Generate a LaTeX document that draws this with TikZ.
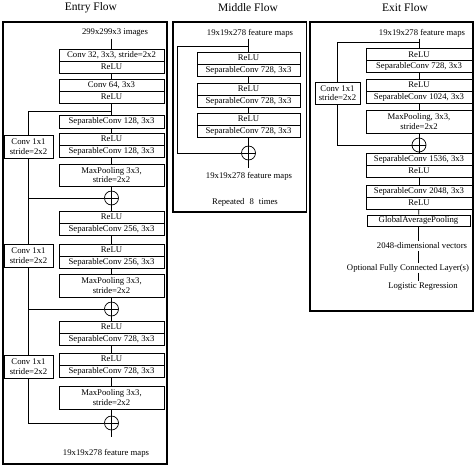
\documentclass[tikz,border=0pt]{standalone}
\usepackage{fontspec}
\setmainfont{Liberation Serif}
\begin{document}
\begin{tikzpicture}[x=1pt,y=-1pt,
  frame/.style={draw, line width=1.5pt},
  blk/.style={draw, line width=0.7pt, inner sep=0pt, align=center, font=\fontsize{8.7}{9.6}\selectfont},
  ew/.style={blk, minimum width=105pt},
  mw/.style={blk, minimum width=103pt},
  xw/.style={blk, minimum width=106pt},
  cw/.style={blk, minimum width=49pt, minimum height=23pt},
  half/.style={minimum height=12pt},
  ttl/.style={font=\fontsize{11.5}{13}\selectfont, inner sep=1pt},
  txt/.style={font=\fontsize{8.7}{9.6}\selectfont, inner sep=1.5pt},
  conn/.style={line width=0.7pt},
  sum/.style={circle, draw, line width=0.7pt, minimum size=14pt, inner sep=0pt,
    path picture={\draw[line width=0.7pt] (path picture bounding box.north) -- (path picture bounding box.south)
      (path picture bounding box.west) -- (path picture bounding box.east);}}
]
\useasboundingbox (0,0) rectangle (474,467);

% ---------- frames and titles ----------
\draw[frame] (3,22) rectangle (167,464);
\draw[frame] (173,22) rectangle (306.5,212);
\draw[frame] (310,22) rectangle (473,311);
\node[ttl] (T1) at (91,8) {Entry Flow};
\node[ttl] (T2) at (248,8) {Middle Flow};
\node[ttl] (T3) at (405,8) {Exit Flow};

% ---------- Entry flow ----------
\node[txt] (ein) at (115,33) {299x299x3 images};
\node[ew, half] (b1a) at (111.5,55) {Conv 32, 3x3, stride=2x2};
\node[ew, half] (b1b) at (111.5,67) {ReLU};
\node[ew, half] (b2a) at (111.5,85) {Conv 64, 3x3};
\node[ew, half] (b2b) at (111.5,97) {ReLU};
\node[ew, minimum height=13pt] (b3) at (111.5,121.5) {SeparableConv 128, 3x3};
\node[ew, half] (b4a) at (111.5,139) {ReLU};
\node[ew, half] (b4b) at (111.5,151) {SeparableConv 128, 3x3};
\node[ew, minimum height=22pt] (mp1) at (111.5,175) {MaxPooling 3x3,\\stride=2x2};
\node[sum] (p1) at (111.5,198) {};
\node[ew, half] (b5a) at (111.5,217) {ReLU};
\node[ew, half] (b5b) at (111.5,229) {SeparableConv 256, 3x3};
\node[ew, half] (b6a) at (111.5,250) {ReLU};
\node[ew, half] (b6b) at (111.5,262) {SeparableConv 256, 3x3};
\node[ew, minimum height=23pt] (mp2) at (111.5,285.5) {MaxPooling 3x3,\\stride=2x2};
\node[sum] (p2) at (111.5,309) {};
\node[ew, half] (b7a) at (111.5,327) {ReLU};
\node[ew, half] (b7b) at (111.5,339) {SeparableConv 728, 3x3};
\node[ew, half] (b8a) at (111.5,359) {ReLU};
\node[ew, half] (b8b) at (111.5,371) {SeparableConv 728, 3x3};
\node[ew, minimum height=23pt] (mp3) at (111.5,397.5) {MaxPooling 3x3,\\stride=2x2};
\node[sum] (p3) at (111.5,423) {};
\coordinate (eend) at (111.5,437);
\node[txt] (eout) at (106,453) {19x19x278 feature maps};

\node[cw] (c1) at (28.5,146.5) {Conv 1x1\\stride=2x2};
\node[cw] (c2) at (28.5,255.5) {Conv 1x1\\stride=2x2};
\node[cw] (c3) at (28.5,366.5) {Conv 1x1\\stride=2x2};
\coordinate (s1) at (111.5,111);

\draw[conn] (b1a.north |- ein.south) -- (b1a.north);
\draw[conn] (b1b) -- (b2a);
\draw[conn] (b2b) -- (b3);
\draw[conn] (b3) -- (b4a);
\draw[conn] (b4b) -- (mp1);
\draw[conn] (mp1) -- (p1);
\draw[conn] (p1) -- (b5a);
\draw[conn] (b5b) -- (b6a);
\draw[conn] (b6b) -- (mp2);
\draw[conn] (mp2) -- (p2);
\draw[conn] (p2) -- (b7a);
\draw[conn] (b7b) -- (b8a);
\draw[conn] (b8b) -- (mp3);
\draw[conn] (mp3) -- (p3);
\draw[conn] (p3) -- (eend);

\draw[conn] (s1) -| (c1.north);
\draw[conn] (c1.south) |- (p1.west);
\draw[conn] (c2.north) |- (p1.west);
\draw[conn] (c2.south) |- (p2.west);
\draw[conn] (c3.north) |- (p2.west);
\draw[conn] (c3.south) |- (p3.west);

% ---------- Middle flow ----------
\node[txt] (min) at (250,33) {19x19x278 feature maps};
\node[mw, half] (m1a) at (248.5,58) {ReLU};
\node[mw, half] (m1b) at (248.5,70) {SeparableConv 728, 3x3};
\node[mw, half] (m2a) at (248.5,89) {ReLU};
\node[mw, half] (m2b) at (248.5,101) {SeparableConv 728, 3x3};
\node[mw, half] (m3a) at (248.5,119) {ReLU};
\node[mw, half] (m3b) at (248.5,131) {SeparableConv 728, 3x3};
\node[sum] (mp) at (248.5,153) {};
\coordinate (mend) at (248.5,168);
\coordinate (ms) at (248.5,46);
\coordinate (mc) at (177,153);
\node[txt] (mout) at (249,176) {19x19x278 feature maps};
\node[txt] (mrep) at (245,202) {Repeated\hspace{5pt}8\hspace{5pt}times};

\draw[conn] (m1a.north |- min.south) -- (m1a.north);
\draw[conn] (m1b) -- (m2a);
\draw[conn] (m2b) -- (m3a);
\draw[conn] (m3b) -- (mp);
\draw[conn] (mp) -- (mend);
\draw[conn] (ms) -| (mc) -- (mp);

% ---------- Exit flow ----------
\node[txt] (xin) at (422,33) {19x19x278 feature maps};
\node[xw, half] (x1a) at (419,54.5) {ReLU};
\node[xw, half] (x1b) at (419,66.5) {SeparableConv 728, 3x3};
\node[xw, half] (x2a) at (419,85) {ReLU};
\node[xw, half] (x2b) at (419,97) {SeparableConv 1024, 3x3};
\node[xw, minimum height=23pt] (xmp) at (419,121.5) {MaxPooling, 3x3,\\stride=2x2};
\node[sum] (xp) at (419,145) {};
\node[xw, half] (x3a) at (419,159) {SeparableConv 1536, 3x3};
\node[xw, half] (x3b) at (419,171) {ReLU};
\node[xw, half] (x4a) at (419,191) {SeparableConv 2048, 3x3};
\node[xw, half] (x4b) at (419,203) {ReLU};
\node[blk, minimum width=103pt, minimum height=11pt] (xg) at (418.5,220.5) {GlobalAveragePooling};
\node[txt] (xv) at (422,246) {2048-dimensional vectors};
\node[txt, inner sep=0.5pt] (xf) at (408,268) {Optional Fully Connected Layer(s)};
\node[txt] (xl) at (423,287) {Logistic Regression};
\node[cw, minimum width=45pt, minimum height=22pt] (xc) at (337.5,93) {Conv 1x1\\stride=2x2};
\coordinate (xs) at (419,42);

\draw[conn] (x1a.north |- xin.south) -- (x1a.north);
\draw[conn] (x1b) -- (x2a);
\draw[conn] (x2b) -- (xmp);
\draw[conn] (xmp) -- (xp);
\draw[conn] (xp) -- (x3a);
\draw[conn] (x3b) -- (x4a);
\draw[conn] (x4b) -- (xg);
\draw[conn] (xg.south) -- (xg.south |- xv.north);
\draw[conn] (xg.south |- xv.south) -- (xg.south |- xf.north);
\draw[conn] (xg.south |- xf.south) -- (xg.south |- xl.north);
\draw[conn] (xs) -| (xc.north);
\draw[conn] (xc.south) |- (xp.west);
\end{tikzpicture}
\end{document}
